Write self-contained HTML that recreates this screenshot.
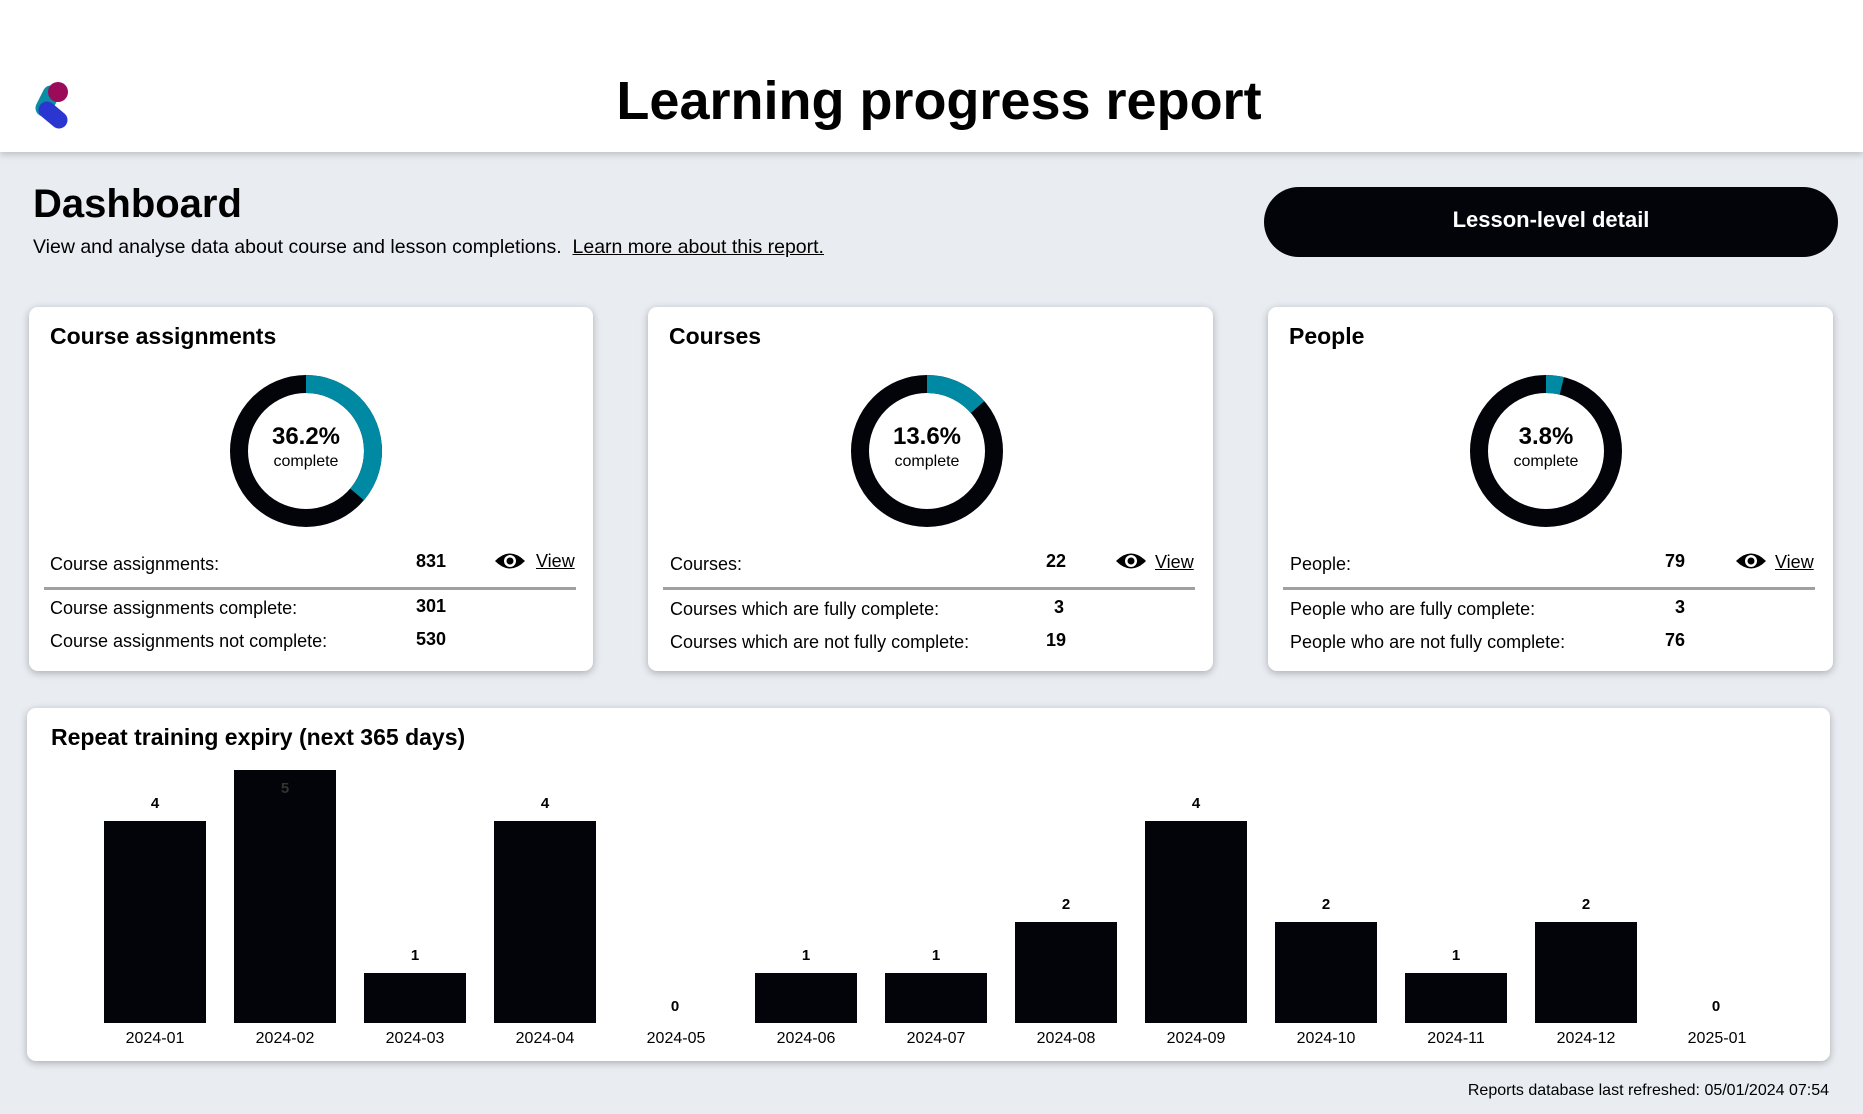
<!DOCTYPE html>
<html><head><meta charset="utf-8"><style>
*{margin:0;padding:0;box-sizing:border-box}
body{width:1863px;height:1114px;background:#e9edf2;font-family:"Liberation Sans",Arial,sans-serif;color:#000;position:relative;overflow:hidden}
.abs{position:absolute}
.hdr{left:0;top:0;width:1863px;height:152px;background:#fff;box-shadow:0 3px 6px rgba(0,0,0,0.18)}
.card{position:absolute;background:#fff;border-radius:9px;box-shadow:0 2px 8px rgba(0,0,0,0.28)}
.ct{position:absolute;left:21px;top:16px;font-weight:bold;font-size:23px;white-space:nowrap}
.t{position:absolute;font-size:18px;white-space:nowrap;line-height:1}
.v{position:absolute;font-size:18px;font-weight:bold;width:60px;text-align:right;line-height:1}
.sep{position:absolute;left:15px;top:280px;width:532px;height:3px;background:#a0a0a0}
.view{position:absolute;font-size:18px;text-decoration:underline;line-height:1}
.pct{position:absolute;width:120px;text-align:center;font-weight:bold;font-size:24px;line-height:1}
.cmp{position:absolute;width:120px;text-align:center;font-size:16px;line-height:1}
.bl{position:absolute;font-size:16px;width:120px;text-align:center;line-height:1}
.bv{position:absolute;font-size:15px;font-weight:bold;width:60px;text-align:center;line-height:1}
.bar{position:absolute;width:102px;background:#03030a}
</style></head><body>
<div class="abs hdr"></div>
<svg class="abs" style="left:30px;top:78px" width="44" height="54" viewBox="30 78 44 54">
<line x1="51" y1="94" x2="44" y2="108" stroke="#0a8da5" stroke-width="17" stroke-linecap="round"/>
<line x1="47" y1="110" x2="59" y2="120" stroke="#2b36d0" stroke-width="17" stroke-linecap="round"/>
<circle cx="58" cy="92" r="10" fill="#9c0a5a"/>
</svg>
<div class="abs" style="left:0;width:1863px;top:68px;text-align:center;padding-left:15px;font-weight:bold;font-size:54px;line-height:66px">Learning progress report</div>
<div class="abs" style="left:33px;top:181px;font-weight:bold;font-size:40px;line-height:46px">Dashboard</div>
<div class="abs" style="left:33px;top:236px;font-size:19.5px;line-height:22px;white-space:nowrap">View and analyse data about course and lesson completions.&nbsp; <span style="text-decoration:underline">Learn more about this report.</span></div>
<div class="abs" style="left:1264px;top:187px;width:574px;height:70px;background:#03030a;border-radius:36px;color:#fff;font-weight:bold;font-size:22px;text-align:center;line-height:66px">Lesson-level detail</div>

<!-- card 1 -->
<div class="card" style="left:29px;top:307px;width:564px;height:364px">
<div class="ct">Course assignments</div>
<svg class="abs" style="left:201px;top:68px" width="152" height="152"><circle cx="76" cy="76" r="67" fill="none" stroke="#03030a" stroke-width="18"/><circle cx="76" cy="76" r="67" fill="none" stroke="#0089a3" stroke-width="18" stroke-dasharray="152.4 500" transform="rotate(-90 76 76)"/></svg>
<div class="pct" style="left:217px;top:118px">36.2%</div><div class="cmp" style="left:217px;top:147px">complete</div>
<div class="t" style="left:21px;top:248px">Course assignments:</div><div class="v" style="left:357px;top:245px">831</div>
<svg class="abs" style="left:465px;top:243px" width="32" height="22" viewBox="0 0 32 22"><path d="M1 11 Q16 -4 31 11 Q16 26 1 11Z" fill="#000"/><circle cx="16" cy="11" r="6" fill="#fff"/><circle cx="16" cy="11" r="3.5" fill="#000"/></svg>
<div class="view" style="left:507px;top:245px">View</div>
<div class="sep"></div>
<div class="t" style="left:21px;top:292px">Course assignments complete:</div><div class="v" style="left:357px;top:290px">301</div>
<div class="t" style="left:21px;top:325px">Course assignments not complete:</div><div class="v" style="left:357px;top:323px">530</div>
</div>

<!-- card 2 -->
<div class="card" style="left:648px;top:307px;width:565px;height:364px">
<div class="ct">Courses</div>
<svg class="abs" style="left:203px;top:68px" width="152" height="152"><circle cx="76" cy="76" r="67" fill="none" stroke="#03030a" stroke-width="18"/><circle cx="76" cy="76" r="67" fill="none" stroke="#0089a3" stroke-width="18" stroke-dasharray="57.3 500" transform="rotate(-90 76 76)"/></svg>
<div class="pct" style="left:219px;top:118px">13.6%</div><div class="cmp" style="left:219px;top:147px">complete</div>
<div class="t" style="left:22px;top:248px">Courses:</div><div class="v" style="left:358px;top:245px">22</div>
<svg class="abs" style="left:467px;top:243px" width="32" height="22" viewBox="0 0 32 22"><path d="M1 11 Q16 -4 31 11 Q16 26 1 11Z" fill="#000"/><circle cx="16" cy="11" r="6" fill="#fff"/><circle cx="16" cy="11" r="3.5" fill="#000"/></svg>
<div class="view" style="left:507px;top:246px">View</div>
<div class="sep"></div>
<div class="t" style="left:22px;top:293px">Courses which are fully complete:</div><div class="v" style="left:356px;top:291px">3</div>
<div class="t" style="left:22px;top:326px">Courses which are not fully complete:</div><div class="v" style="left:358px;top:324px">19</div>
</div>

<!-- card 3 -->
<div class="card" style="left:1268px;top:307px;width:565px;height:364px">
<div class="ct">People</div>
<svg class="abs" style="left:202px;top:68px" width="152" height="152"><circle cx="76" cy="76" r="67" fill="none" stroke="#03030a" stroke-width="18"/><circle cx="76" cy="76" r="67" fill="none" stroke="#0089a3" stroke-width="18" stroke-dasharray="16 500" transform="rotate(-90 76 76)"/></svg>
<div class="pct" style="left:218px;top:118px">3.8%</div><div class="cmp" style="left:218px;top:147px">complete</div>
<div class="t" style="left:22px;top:248px">People:</div><div class="v" style="left:357px;top:245px">79</div>
<svg class="abs" style="left:467px;top:243px" width="32" height="22" viewBox="0 0 32 22"><path d="M1 11 Q16 -4 31 11 Q16 26 1 11Z" fill="#000"/><circle cx="16" cy="11" r="6" fill="#fff"/><circle cx="16" cy="11" r="3.5" fill="#000"/></svg>
<div class="view" style="left:507px;top:246px">View</div>
<div class="sep"></div>
<div class="t" style="left:22px;top:293px">People who are fully complete:</div><div class="v" style="left:357px;top:291px">3</div>
<div class="t" style="left:22px;top:326px">People who are not fully complete:</div><div class="v" style="left:357px;top:324px">76</div>
</div>

<!-- bar card -->
<div class="card" style="left:27px;top:708px;width:1803px;height:353px">
<div class="ct" style="left:24px;top:16px">Repeat training expiry (next 365 days)</div>
<div class="bar" style="left:77px;top:113px;height:202px"></div><div class="bv" style="left:98px;top:88px">4</div>
<div class="bar" style="left:207px;top:62px;height:253px"></div><div class="bv" style="left:228px;top:73px;color:#333">5</div>
<div class="bar" style="left:337px;top:265px;height:50px"></div><div class="bv" style="left:358px;top:240px">1</div>
<div class="bar" style="left:467px;top:113px;height:202px"></div><div class="bv" style="left:488px;top:88px">4</div>
<div class="bv" style="left:618px;top:291px">0</div>
<div class="bar" style="left:728px;top:265px;height:50px"></div><div class="bv" style="left:749px;top:240px">1</div>
<div class="bar" style="left:858px;top:265px;height:50px"></div><div class="bv" style="left:879px;top:240px">1</div>
<div class="bar" style="left:988px;top:214px;height:101px"></div><div class="bv" style="left:1009px;top:189px">2</div>
<div class="bar" style="left:1118px;top:113px;height:202px"></div><div class="bv" style="left:1139px;top:88px">4</div>
<div class="bar" style="left:1248px;top:214px;height:101px"></div><div class="bv" style="left:1269px;top:189px">2</div>
<div class="bar" style="left:1378px;top:265px;height:50px"></div><div class="bv" style="left:1399px;top:240px">1</div>
<div class="bar" style="left:1508px;top:214px;height:101px"></div><div class="bv" style="left:1529px;top:189px">2</div>
<div class="bv" style="left:1659px;top:291px">0</div>
<div class="bl" style="left:68px;top:323px">2024-01</div>
<div class="bl" style="left:198px;top:323px">2024-02</div>
<div class="bl" style="left:328px;top:323px">2024-03</div>
<div class="bl" style="left:458px;top:323px">2024-04</div>
<div class="bl" style="left:589px;top:323px">2024-05</div>
<div class="bl" style="left:719px;top:323px">2024-06</div>
<div class="bl" style="left:849px;top:323px">2024-07</div>
<div class="bl" style="left:979px;top:323px">2024-08</div>
<div class="bl" style="left:1109px;top:323px">2024-09</div>
<div class="bl" style="left:1239px;top:323px">2024-10</div>
<div class="bl" style="left:1369px;top:323px">2024-11</div>
<div class="bl" style="left:1499px;top:323px">2024-12</div>
<div class="bl" style="left:1630px;top:323px">2025-01</div>
</div>
<div class="abs" style="right:34px;top:1082px;font-size:16px;line-height:18px;white-space:nowrap">Reports database last refreshed: 05/01/2024 07:54</div>
</body></html>
